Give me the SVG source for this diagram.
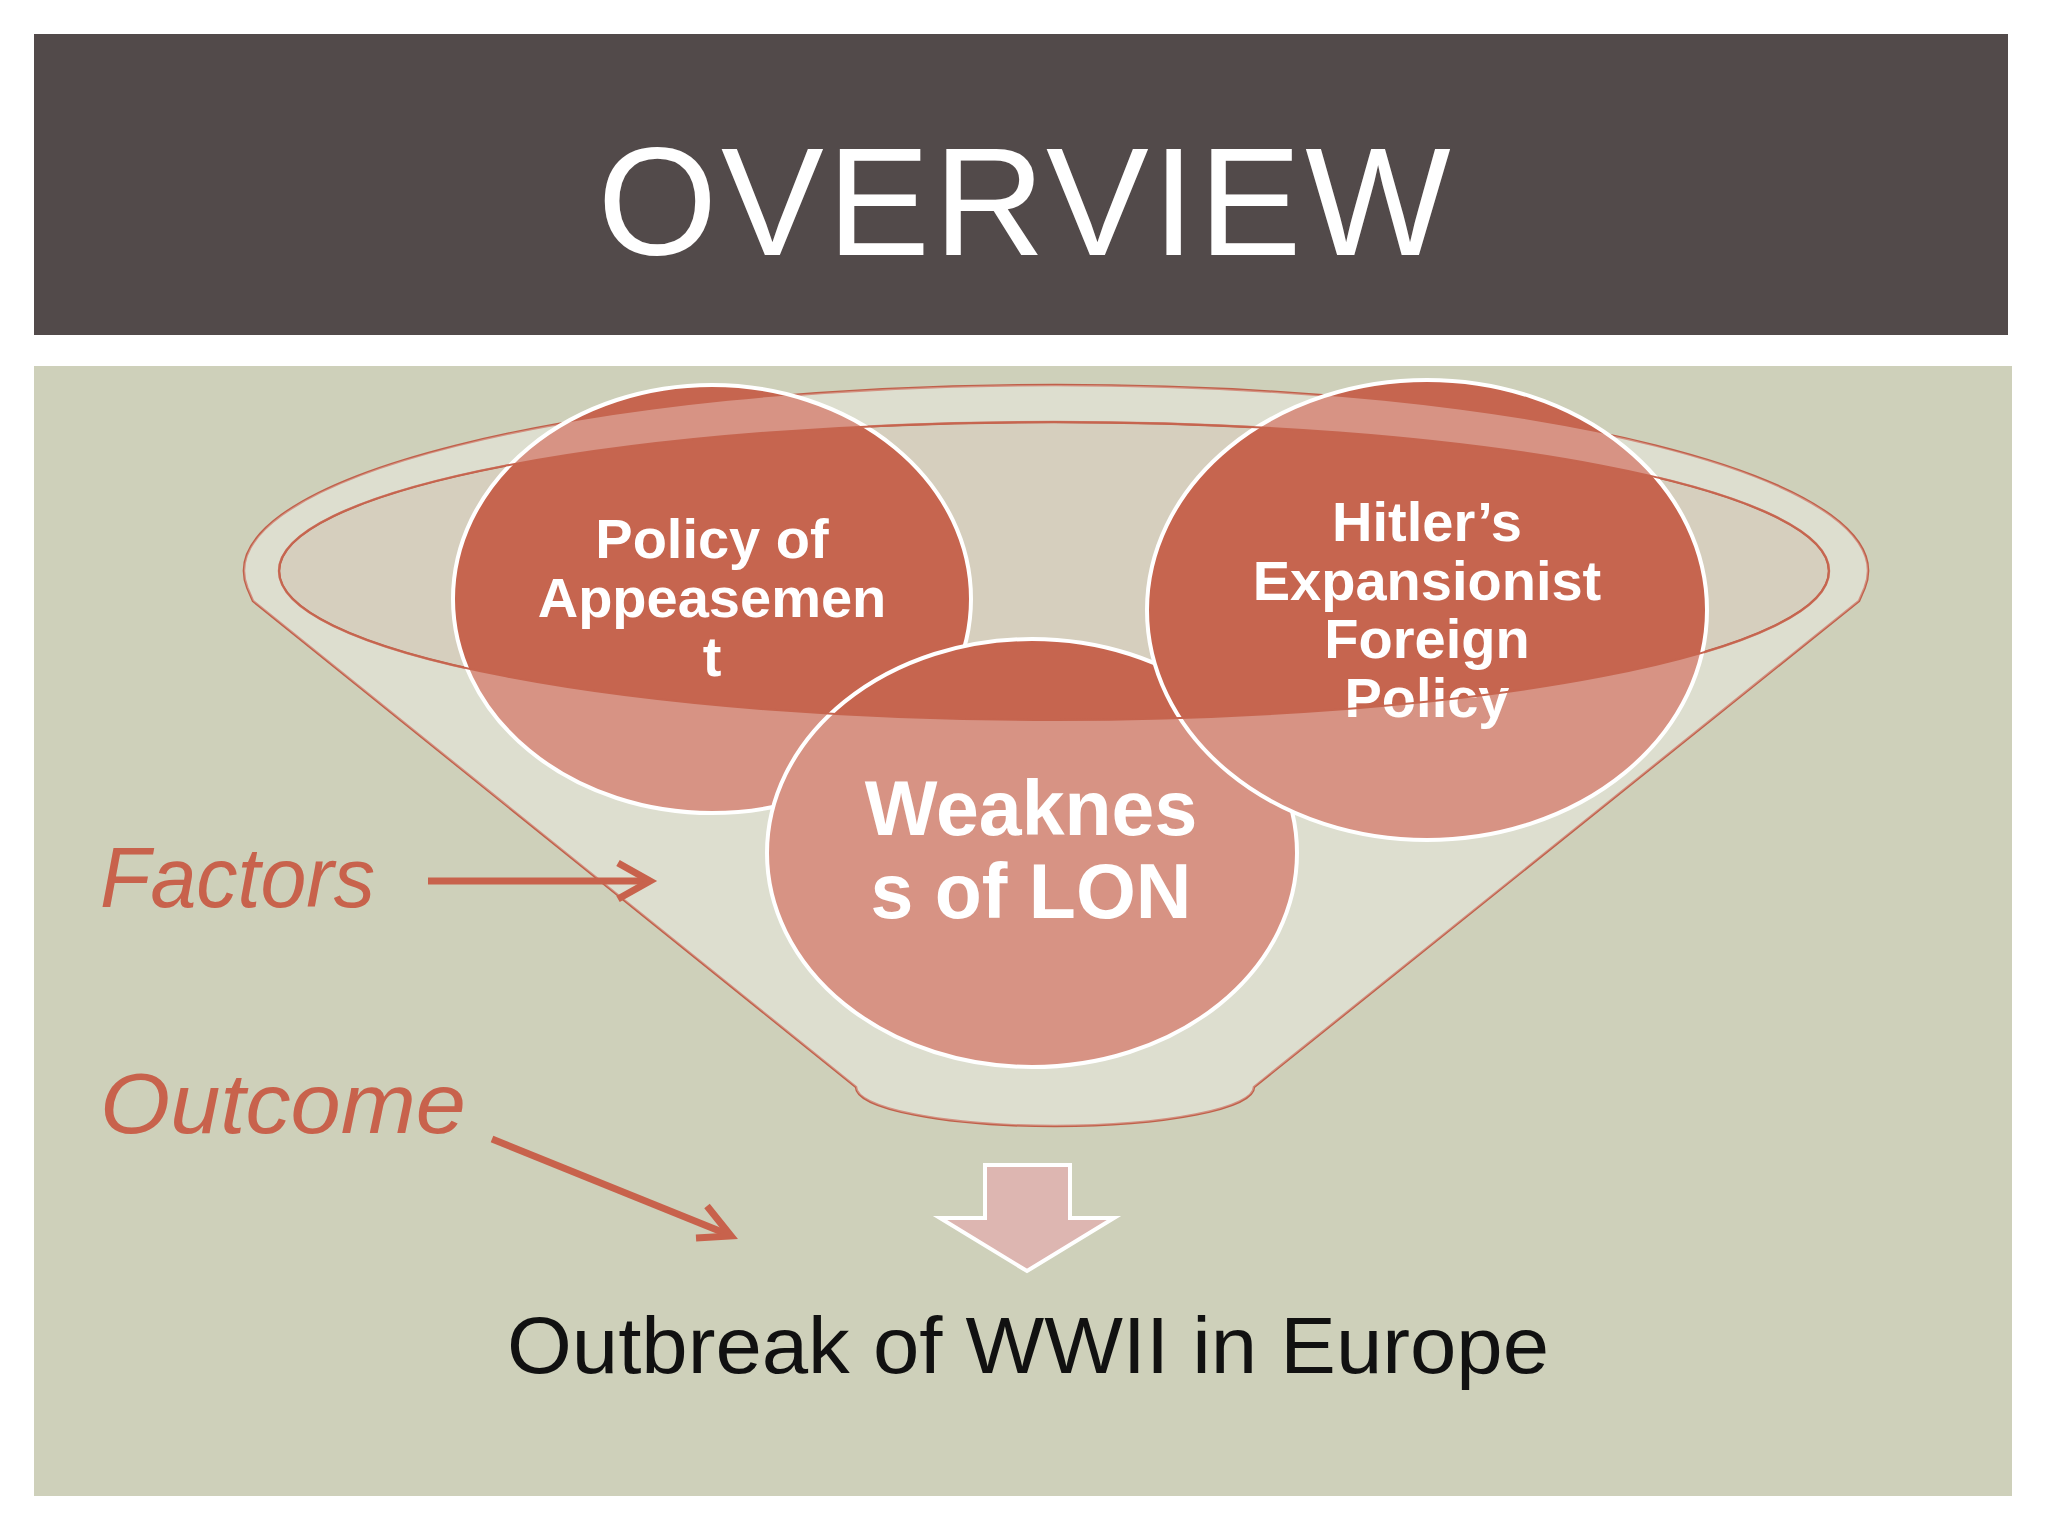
<svg xmlns="http://www.w3.org/2000/svg" width="2048" height="1536" viewBox="0 0 2048 1536">
  <defs>
    <style>
      .circ { fill: #C6654F; stroke: #FFFFFF; stroke-width: 4; }
      .ctext { font-family: "Liberation Sans", Arial, sans-serif; font-weight: bold; fill: #FFFFFF; text-anchor: middle; }
      .label { font-family: "Liberation Sans", Arial, sans-serif; font-style: italic; fill: #C8624C; }
      .arrow { fill: none; stroke: #C8624C; stroke-width: 7; stroke-linejoin: miter; }
      .fline { fill: none; stroke: #C0604A; stroke-width: 2.5; }
    </style>
  </defs>

  <rect x="0" y="0" width="2048" height="1536" fill="#FFFFFF"/>

  <g id="header">
    <rect x="34" y="34" width="1974" height="301" fill="#524A4A"/>
    <text x="1024" y="255" font-family="Liberation Sans, Arial, sans-serif" font-size="154" fill="#FFFFFF" text-anchor="middle" textLength="853" lengthAdjust="spacing">OVERVIEW</text>
  </g>

  <g id="panel">
    <rect x="34" y="366" width="1978" height="1130" fill="#CED0BA"/>
  </g>

  <g id="funnel-base">
    <ellipse cx="1054" cy="571" rx="775" ry="149" fill="#D6CFBE"/>
    <path class="fline" d="M253,601 L247.4,588 A812,186 0 1 1 1864.6,588 L1859,601 L1254,1087 A199,39 0 0 1 856,1087 Z"/>
    <ellipse class="fline" cx="1054" cy="571" rx="775" ry="149"/>
  </g>

  <g id="node-appeasement">
    <ellipse class="circ" cx="712" cy="599" rx="259" ry="214"/>
    <text class="ctext" font-size="56"><tspan x="712" y="558">Policy of</tspan><tspan x="712" y="617">Appeasemen</tspan><tspan x="712" y="676">t</tspan></text>
  </g>

  <g id="node-lon">
    <ellipse class="circ" cx="1032" cy="853" rx="265" ry="214"/>
    <text class="ctext" font-size="77"><tspan x="1031" y="835">Weaknes</tspan><tspan x="1031" y="918">s of LON</tspan></text>
  </g>

  <g id="node-hitler">
    <ellipse class="circ" cx="1427" cy="610" rx="280" ry="230"/>
    <text class="ctext" font-size="56"><tspan x="1427" y="541">Hitler’s</tspan><tspan x="1427" y="600">Expansionist</tspan><tspan x="1427" y="658">Foreign</tspan><tspan x="1427" y="717">Policy</tspan></text>
  </g>

  <g id="funnel-overlay">
    <path fill="#FFFFFF" fill-opacity="0.3" fill-rule="evenodd" d="M253,601 L247.4,588 A812,186 0 1 1 1864.6,588 L1859,601 L1254,1087 A199,39 0 0 1 856,1087 Z M279,571 A775,149 0 1 1 1829,571 A775,149 0 1 1 279,571 Z"/>
    <ellipse cx="1054" cy="571" rx="775" ry="149" fill="none" stroke="#C6654F" stroke-width="2"/>
  </g>

  <g id="label-factors">
    <text class="label" x="100" y="907" font-size="86" textLength="275" lengthAdjust="spacingAndGlyphs">Factors</text>
  </g>
  <g id="label-outcome">
    <text class="label" x="100" y="1133" font-size="86" textLength="366" lengthAdjust="spacingAndGlyphs">Outcome</text>
  </g>

  <g id="node-outbreak">
    <text x="507" y="1373" font-family="Liberation Sans, Arial, sans-serif" font-size="80" fill="#111111" textLength="1042" lengthAdjust="spacingAndGlyphs">Outbreak of WWII in Europe</text>
  </g>

  <g id="connectors">
    <line class="arrow" x1="428" y1="881" x2="646" y2="881"/>
    <polyline class="arrow" points="618,863 650,881 618,899"/>
    <line class="arrow" x1="492" y1="1139" x2="727" y2="1234"/>
    <polyline class="arrow" points="707,1206 731,1236 696,1238"/>
    <path d="M985,1165 L1070,1165 L1070,1218 L1114,1218 L1027,1271 L940,1218 L985,1218 Z" fill="#DDB6B1" stroke="#FFFFFF" stroke-width="4"/>
  </g>
</svg>
